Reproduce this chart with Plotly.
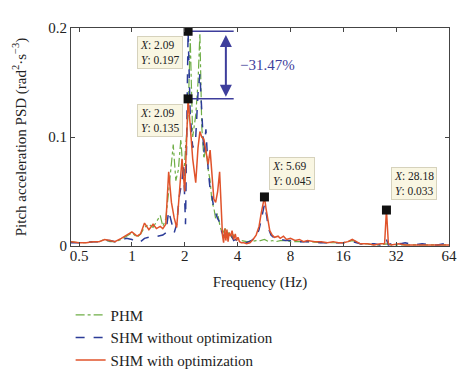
import math
import plotly.graph_objects as go

# ---------------- data ----------------
freq_phm = [0.45, 0.5, 0.55, 0.6, 0.65, 0.7, 0.75, 0.8, 0.87, 0.93, 1.0, 1.07, 1.12, 1.18, 1.25, 1.32,
            1.4, 1.45, 1.5, 1.56, 1.62, 1.68, 1.72, 1.78, 1.84, 1.9, 1.97, 2.02, 2.09, 2.15, 2.22, 2.31,
            2.38, 2.44, 2.5, 2.57, 2.64, 2.72, 2.79, 2.86, 2.93, 3.0, 3.08, 3.16, 3.22, 3.3, 3.4, 3.5,
            3.6, 3.7, 3.8, 3.9, 4.0, 4.2, 4.5, 4.8, 5.1, 5.4, 5.69, 6.0, 6.3, 6.6, 7.0, 7.5, 8.0, 9.0,
            10, 12, 14, 16, 17, 18, 19, 20, 22, 24, 26, 28.18, 30, 35, 40, 50, 64]
psd_phm = [0.004, 0.003, 0.003, 0.004, 0.004, 0.006, 0.004, 0.004, 0.006, 0.009, 0.012, 0.008, 0.011,
           0.017, 0.020, 0.017, 0.024, 0.028, 0.018, 0.025, 0.050, 0.080, 0.093, 0.060, 0.070, 0.098,
           0.060, 0.090, 0.120, 0.190, 0.100, 0.120, 0.150, 0.195, 0.110, 0.080, 0.090, 0.070, 0.060,
           0.040, 0.035, 0.025, 0.030, 0.020, 0.015, 0.012, 0.016, 0.010, 0.013, 0.008, 0.010, 0.006,
           0.007, 0.005, 0.004, 0.004, 0.005, 0.005, 0.006, 0.004, 0.005, 0.004, 0.005, 0.005, 0.004,
           0.004, 0.004, 0.003, 0.003, 0.003, 0.004, 0.005, 0.004, 0.002, 0.002, 0.001, 0.001, 0.002,
           0.001, 0.001, 0.001, 0.001, 0.001]

freq_shm = [0.45, 0.5, 0.55, 0.6, 0.65, 0.7, 0.75, 0.8, 0.87, 0.93, 1.0, 1.07, 1.12, 1.18, 1.25, 1.32,
            1.4, 1.5, 1.56, 1.62, 1.68, 1.74, 1.8, 1.86, 1.93, 1.97, 2.02, 2.09, 2.15, 2.22, 2.31, 2.38,
            2.44, 2.5, 2.57, 2.64, 2.72, 2.79, 2.86, 2.93, 3.0, 3.08, 3.16, 3.22, 3.3, 3.4, 3.5, 3.6,
            3.7, 3.8, 3.9, 4.0, 4.2, 4.5, 4.8, 5.1, 5.3, 5.5, 5.69, 5.85, 6.0, 6.2, 6.5, 7.0, 7.5, 8.0,
            9.0, 10, 12, 14, 16, 18, 20, 22, 24, 26, 27.5, 28.18, 28.9, 30, 32, 34, 36, 40, 45, 50, 55,
            60, 64]
psd_shm = [0.003, 0.003, 0.003, 0.004, 0.004, 0.005, 0.005, 0.004, 0.006, 0.007, 0.006, 0.003, 0.004,
           0.007, 0.008, 0.008, 0.009, 0.010, 0.012, 0.032, 0.022, 0.012, 0.020, 0.045, 0.060, 0.075,
           0.020, 0.197, 0.120, 0.090, 0.100, 0.140, 0.158, 0.120, 0.085, 0.107, 0.070, 0.052, 0.045,
           0.035, 0.030, 0.025, 0.022, 0.015, 0.010, 0.008, 0.010, 0.007, 0.009, 0.005, 0.006, 0.004,
           0.003, 0.003, 0.005, 0.008, 0.015, 0.028, 0.038, 0.028, 0.016, 0.010, 0.007, 0.006, 0.005,
           0.005, 0.004, 0.004, 0.003, 0.003, 0.003, 0.004, 0.002, 0.002, 0.002, 0.001, 0.002, 0.006,
           0.001, 0.002, 0.004, 0.002, 0.003, 0.001, 0.002, 0.001, 0.001, 0.002, 0.001]

freq_opt = [0.45, 0.5, 0.55, 0.6, 0.65, 0.7, 0.75, 0.8, 0.87, 0.93, 1.0, 1.07, 1.12, 1.18, 1.25, 1.32,
            1.38, 1.45, 1.5, 1.56, 1.62, 1.68, 1.74, 1.8, 1.86, 1.93, 2.0, 2.09, 2.15, 2.22, 2.31, 2.38,
            2.44, 2.5, 2.57, 2.64, 2.72, 2.79, 2.86, 2.93, 3.0, 3.08, 3.16, 3.22, 3.28, 3.33, 3.38, 3.43,
            3.48, 3.53, 3.58, 3.65, 3.72, 3.8, 3.88, 3.95, 4.02, 4.1, 4.2, 4.35, 4.5, 4.7, 4.9, 5.1, 5.3,
            5.45, 5.58, 5.69, 5.8, 5.95, 6.1, 6.3, 6.5, 6.8, 7.0, 7.3, 7.6, 8.0, 8.5, 9.0, 9.5, 10, 11,
            12, 13, 14, 15, 16, 17, 18, 19, 20, 22, 24, 26, 27.5, 28.18, 28.9, 30, 33, 36, 40, 45, 50,
            55, 60, 64]
psd_opt = [0.004, 0.003, 0.003, 0.004, 0.004, 0.006, 0.005, 0.004, 0.007, 0.010, 0.013, 0.009, 0.011,
           0.021, 0.015, 0.020, 0.016, 0.018, 0.016, 0.020, 0.068, 0.040, 0.026, 0.017, 0.050, 0.080,
           0.050, 0.135, 0.110, 0.080, 0.058, 0.090, 0.105, 0.100, 0.098, 0.085, 0.075, 0.088, 0.060,
           0.043, 0.040, 0.050, 0.068, 0.035, 0.010, 0.003, 0.016, 0.005, 0.015, 0.004, 0.012, 0.009,
           0.014, 0.006, 0.011, 0.005, 0.008, 0.004, 0.003, 0.003, 0.002, 0.003, 0.006, 0.010, 0.018,
           0.030, 0.040, 0.045, 0.035, 0.022, 0.014, 0.010, 0.008, 0.009, 0.007, 0.009, 0.006, 0.007,
           0.005, 0.006, 0.004, 0.005, 0.004, 0.004, 0.003, 0.004, 0.003, 0.003, 0.004, 0.006, 0.004,
           0.002, 0.002, 0.001, 0.002, 0.002, 0.033, 0.002, 0.001, 0.002, 0.001, 0.001, 0.001, 0.001,
           0.001, 0.001, 0.001]

tip_x = [2.09, 2.09, 5.69, 28.18]
tip_y = [0.197, 0.135, 0.045, 0.033]

x_ticks = [0.5, 1, 2, 4, 8, 16, 32, 64]
x_tick_labels = ["0.5", "1", "2", "4", "8", "16", "32", "64"]
y_ticks = [0, 0.1, 0.2]
y_tick_labels = ["0", "0.1", "0.2"]

reduction_label = "\u221231.47%"

# ---------------- figure ----------------
FONT = "Liberation Serif"
C_GREEN = "#6fae47"
C_BLUE = "#2c3c98"
C_RED = "#e0532b"
C_ANN = "#3e3e9c"

fig = go.Figure()
fig.add_trace(go.Scatter(x=freq_phm, y=psd_phm, mode="lines", name="PHM",
                         line=dict(color=C_GREEN, width=1.2, dash="dashdot")))
fig.add_trace(go.Scatter(x=freq_shm, y=psd_shm, mode="lines", name="SHM without optimization",
                         line=dict(color=C_BLUE, width=1.5, dash="dash")))
fig.add_trace(go.Scatter(x=freq_opt, y=psd_opt, mode="lines", name="SHM with optimization",
                         line=dict(color=C_RED, width=1.5)))

# reference lines from the two peak data tips
line_end = 3.8
for yv in tip_y[:2]:
    fig.add_trace(go.Scatter(x=[tip_x[0], line_end], y=[yv, yv], mode="lines", showlegend=False,
                             hoverinfo="skip", line=dict(color=C_ANN, width=1.5)))

# data-tip markers
fig.add_trace(go.Scatter(x=tip_x, y=tip_y, mode="markers", showlegend=False,
                         marker=dict(symbol="square", size=9, color="#111111")))

annotations = []
tip_pos = [("right", "top", -5, -5), ("right", "top", -5, -5),
           ("left", "bottom", 5, 7), ("left", "bottom", 5, 10)]
for (xv, yv), (xa, ya, xs, ys) in zip(zip(tip_x, tip_y), tip_pos):
    annotations.append(dict(
        x=math.log10(xv), y=yv, xref="x", yref="y",
        text=f"<i>X</i>: {xv:g}<br><i>Y</i>: {yv:g}",
        showarrow=False, xanchor=xa, yanchor=ya, xshift=xs, yshift=ys, align="left",
        font=dict(family=FONT, size=11.5, color="#222222"),
        bgcolor="#f9f6e2", bordercolor="#d6d2bc", borderwidth=1, borderpad=2,
    ))

# double-headed arrow
arrow_x = 3.43
annotations.append(dict(
    x=math.log10(arrow_x), y=tip_y[1] + 0.002, xref="x", yref="y",
    ax=math.log10(arrow_x), ay=tip_y[0] - 0.002, axref="x", ayref="y",
    text="", showarrow=True, arrowhead=2, arrowside="end+start", arrowsize=1.2,
    arrowwidth=2, arrowcolor=C_ANN,
))
annotations.append(dict(
    x=math.log10(4.0), y=(tip_y[0] + tip_y[1]) / 2 + 0.0, xref="x", yref="y",
    text=reduction_label, showarrow=False, xanchor="left", yanchor="middle",
    font=dict(family=FONT, size=15, color=C_ANN),
))

axis_common = dict(
    showline=True, linecolor="#444444", linewidth=1, mirror="ticks",
    ticks="inside", ticklen=4, tickcolor="#444444", showgrid=False, zeroline=False,
    tickfont=dict(family=FONT, size=15, color="#222222"),
)

fig.update_layout(
    width=474, height=386,
    margin=dict(l=60, r=33, t=16, b=148),
    paper_bgcolor="white", plot_bgcolor="white",
    font=dict(family=FONT, size=15, color="#222222"),
    xaxis=dict(type="log", range=[math.log10(0.45), math.log10(64)],
               tickvals=x_ticks, ticktext=x_tick_labels, ticklabelstandoff=-4, tickangle=0,
               title=dict(text="Frequency (Hz)", font=dict(family=FONT, size=15), standoff=13),
               **axis_common),
    yaxis=dict(range=[0, 0.2], tickvals=y_ticks, ticktext=y_tick_labels,
               title=dict(text="Pitch acceleration PSD (rad<sup>2</sup>\u00b7s<sup>\u22123</sup>)",
                          font=dict(family=FONT, size=15), standoff=18),
               **axis_common),
    legend=dict(x=-0.001, y=-0.2415, xanchor="left", yanchor="top", bgcolor="rgba(0,0,0,0)",
                font=dict(family=FONT, size=15, color="#222222"), tracegroupgap=0),
    annotations=annotations,
    showlegend=True,
)

fig.write_html("out.html")
